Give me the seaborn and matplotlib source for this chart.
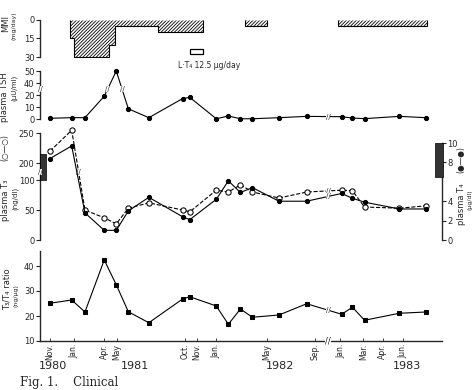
import numpy as np
import matplotlib
matplotlib.use("Agg")
import matplotlib.pyplot as plt
import seaborn as sns
from matplotlib.patches import Rectangle

# sampling dates, in months from Nov. 1980 (axis is broken between Sep. 82 and Jan. 83)
months = [0.0, 1.8, 2.9, 4.5, 5.5, 6.5, 8.2, 11.0, 11.6, 13.8,
          14.8, 15.8, 16.8, 19.0, 21.3, 24.2, 25.1, 26.1, 29.0, 31.2]

tsh = [0.6, 1.1, 1.1, 19, 50, 8.5, 1.1, 17, 18, 0.2,
       2.5, 0.2, 0.2, 1.1, 2.2, 1.9, 0.8, 0.3, 2.2, 1.1]          # uU/ml
t3 = [220, 255, 50, 37, 27, 53, 62, 50, 47, 83,
      80, 92, 80, 70, 80, 83, 82, 55, 53, 57]                     # ng/dl
t4 = [8.4, 9.7, 2.8, 1.0, 1.0, 3.0, 4.4, 2.4, 2.1, 4.2,
      6.1, 4.9, 5.4, 4.0, 4.0, 4.8, 4.3, 3.9, 3.2, 3.2]           # ug/dl
ratio = [25.1, 26.4, 21.6, 42.4, 32.5, 21.7, 17.3, 26.8, 27.7, 24.0,
         16.7, 22.8, 19.5, 20.4, 24.9, 20.7, 23.5, 18.3, 21.1, 21.6]

# MMI courses: step edges (months) and dose (mg/day)
mmi_edges = [[1.66, 2.0, 4.9, 5.4, 8.96, 12.7], [16.2, 18.0], [23.9, 31.3]]
mmi_dose = [[15, 30, 20, 5, 10], [5], [5]]
lt4_edges = [11.6, 12.7]

t3_normal = [100, 215]
t4_normal = [6.5, 10]

tick_labels = ["Nov.", "Jan.", "Apr.", "May", "Oct.", "Nov.", "Jan.", "May",
               "Sep.", "Jan.", "Mar.", "Apr.", "Jun."]
tick_pos = [0.0, 2.0, 4.5, 5.55, 11.2, 12.2, 13.8, 18.0, 22.0, 24.1, 26.0, 27.6, 29.3]
years = ["1980", "1981", "1982", "1983"]
year_pos = [0.25, 7.05, 19.1, 29.6]
gap = 23.07

sns.set_style("ticks")
plt.rcParams["font.family"] = ["DejaVu Sans"]
plt.rcParams["hatch.linewidth"] = 0.6
plt.rcParams["hatch.color"] = "black"

W, H = 474, 390
fig = plt.figure(figsize=(W / 100, H / 100), dpi=100)


def rect(x0, y0, x1, y1):
    return [x0 / W, 1 - y1 / H, (x1 - x0) / W, (y1 - y0) / H]


def ftext(x, y, s, **kw):
    fig.text(x / W, 1 - y / H, s, ha="center", va="center", **kw)


def brk(ax, x, y, size=6):
    ax.text(x, y, "//", ha="center", va="center", fontsize=size,
            bbox=dict(fc="white", ec="none", pad=0), zorder=6, clip_on=False)


def cross_marks(ax, x, d, level):
    for i in range(len(x) - 1):
        if (d[i] - level) * (d[i + 1] - level) < 0:
            t = (level - d[i]) / (d[i + 1] - d[i])
            brk(ax, x[i] + t * (x[i + 1] - x[i]), level, 5)
    brk(ax, gap, np.interp(gap, x, d), 5)


XL = (-0.83, 32.53)


def style(ax):
    ax.set_xlim(XL)
    ax.patch.set_alpha(0)
    for s in ["top", "right", "bottom"]:
        ax.spines[s].set_visible(False)
    ax.set_xticks([])
    ax.spines["left"].set_linewidth(1.0)
    ax.tick_params(axis="y", direction="out", length=3, width=0.8, pad=1, labelsize=6)


ax_mmi = fig.add_axes(rect(40, 18, 442, 58))
ax_tsh = fig.add_axes(rect(40, 60, 442, 122))
ax_t3 = fig.add_axes(rect(40, 123, 442, 242))
ax_r = fig.add_axes(rect(40, 245, 442, 341))
for a in [ax_mmi, ax_tsh, ax_t3, ax_r]:
    style(a)

# MMI dose
for e, d in zip(mmi_edges, mmi_dose):
    ax_mmi.stairs(d, e, baseline=0, fill=True, facecolor="white",
                  edgecolor="black", hatch="//////////", linewidth=0.8)
ax_mmi.add_patch(Rectangle((lt4_edges[0], 23.6), lt4_edges[1] - lt4_edges[0], 4.0,
                           fill=False, ec="black", lw=0.9))
ax_mmi.set_xlim(XL)
ax_mmi.set_ylim(30.8, -1.6)
ax_mmi.set_yticks([0, 15, 30])
ax_mmi.spines["left"].set_bounds(0, 30)
ftext(209, 66, "L·T₄ 12.5 μg/day", fontsize=5.5)

# TSH (broken scale above 20)
tsh_d = np.interp(tsh, [0, 20, 40, 60], [0, 20, 30, 50])
sns.lineplot(x=months, y=tsh_d, ax=ax_tsh, color="black", marker="o", markersize=3,
             markeredgecolor="black", linewidth=0.8)
ax_tsh.set_ylim(-2.5, 49.2)
ax_tsh.set_yticks([0, 10, 20, 30, 40], ["0", "10", "20", "40", "50"])
ax_tsh.spines["left"].set_bounds(0, 40)
ax_tsh.set_xlim(XL)
brk(ax_tsh, XL[0], 25, 5)
cross_marks(ax_tsh, months, tsh_d, 25)

# T3 / T4
t3_d = np.interp(t3, [0, 100, 200, 300], [0, 100, 128, 228])
k = 0.6 / 9.7
ax_t4 = ax_t3.twinx()
ax_t4.patch.set_alpha(0)
for s in ["top", "left", "bottom"]:
    ax_t4.spines[s].set_visible(False)
ax_t4.spines["right"].set_linewidth(1.0)

sns.lineplot(x=months, y=t3_d, ax=ax_t3, color="black", linestyle="--", linewidth=0.8,
             marker="o", markersize=3.8, markerfacecolor="white", markeredgecolor="black")
sns.lineplot(x=months, y=t4, ax=ax_t4, color="black", linewidth=0.8,
             marker="o", markersize=3, markeredgecolor="black")
ax_t3.set_xlim(XL)
ax_t4.set_xlim(XL)
ax_t3.set_ylim(-3.3, 195)
ax_t4.set_ylim(-3.3 * k, 195 * k)
ax_t3.set_yticks([0, 50, 100, 128, 178], ["0", "50", "100", "200", "250"])
ax_t3.spines["left"].set_bounds(0, 178)
ax_t4.set_yticks([0, 2, 4, 8, 10])
ax_t4.spines["right"].set_bounds(0, 10)
ax_t4.tick_params(axis="y", direction="out", length=3, width=0.8, pad=1, labelsize=6)
ax_t4.set_xticks([])
ax_t3.set_ylabel("")
ax_t4.set_ylabel("")

lo, hi = np.interp(t3_normal, [0, 100, 200, 300], [0, 100, 128, 228])
ax_t3.add_patch(Rectangle((0.0, lo), 0.015, hi - lo, transform=ax_t3.get_yaxis_transform(),
                          fc="0.2", ec="black", lw=0.5, clip_on=False, zorder=4))
ax_t4.add_patch(Rectangle((0.9826, t4_normal[0]), 0.02, t4_normal[1] - t4_normal[0],
                          transform=ax_t4.get_yaxis_transform(),
                          fc="0.2", ec="black", lw=0.5, clip_on=False, zorder=4))
brk(ax_t3, XL[0], 114, 5)
cross_marks(ax_t3, months, t3_d, 114)
brk(ax_t4, gap, np.interp(gap, months, t4), 5)

# T3/T4 ratio
sns.lineplot(x=months, y=ratio, ax=ax_r, color="black", marker="s", markersize=3,
             markeredgecolor="black", linewidth=0.8)
ax_r.set_xlim(XL)
ax_r.set_ylim(10, 48.4)
ax_r.set_yticks([10, 20, 30, 40])
ax_r.spines["left"].set_bounds(10, 46)
ax_r.spines["bottom"].set_visible(True)
ax_r.spines["bottom"].set_linewidth(1.0)
ax_r.set_xticks(tick_pos, tick_labels, rotation=90)
ax_r.tick_params(axis="x", direction="in", length=2, width=0.6, pad=2, labelsize=5.5)
ax_r.set_ylabel("")
brk(ax_r, gap, 10, 6)
brk(ax_r, gap, np.interp(gap, months, ratio), 5)
for yr, xp in zip(years, year_pos):
    ax_r.text(xp, -0.26, yr, transform=ax_r.get_xaxis_transform(), ha="center",
              va="center", fontsize=8)

# axis titles
ftext(6, 23, "MMI", rotation=90, fontsize=6)
ftext(14, 26, "(mg/day)", rotation=90, fontsize=4.5)
ftext(5, 97, "plasma TSH", rotation=90, fontsize=6)
ftext(14, 88, "(μU/ml)", rotation=90, fontsize=5)
ftext(5, 148, "(○—○)", rotation=90, fontsize=5.5)
ftext(5, 200, "plasma T₃", rotation=90, fontsize=6)
ftext(15, 198, "(ng/dl)", rotation=90, fontsize=5)
ftext(461, 160, "(●—●)", rotation=90, fontsize=5.5)
ftext(461, 204, "plasma T₄", rotation=90, fontsize=6)
ftext(470, 200, "(μg/dl)", rotation=90, fontsize=4.5)
ftext(7, 289, "T₃/T₄ ratio", rotation=90, fontsize=6)
ftext(16, 296, "(ng/μg)", rotation=90, fontsize=4.5)

fig.text(20 / W, 1 - 389 / H, "Fig. 1.    Clinical", ha="left", va="bottom",
         fontsize=8.5, family="DejaVu Serif")

fig.savefig("out.png", dpi=100)
